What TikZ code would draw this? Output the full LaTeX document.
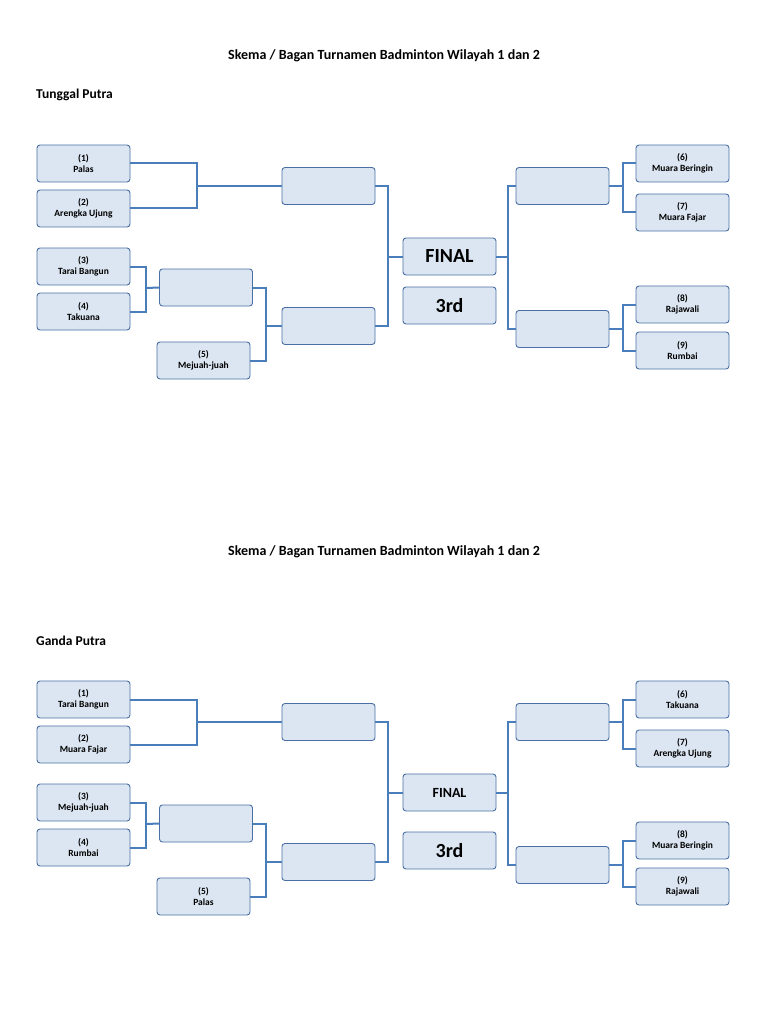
\documentclass[tikz,border=0pt]{standalone}
\usepackage{fontspec}
\setmainfont{Carlito}
\begin{document}
\begin{tikzpicture}[x=1pt,y=-1pt,
  box/.style={draw=bdr,fill=bfill,rounded corners=3pt,line width=0.9pt,minimum width=93pt,minimum height=37pt,inner sep=1pt,align=center,font=\fontsize{9.5}{11}\selectfont\bfseries},
  ln/.style={draw=lnc,line width=2pt}]
\definecolor{bdr}{HTML}{4A6FA5}
\definecolor{bfill}{HTML}{DCE6F2}
\definecolor{lnc}{HTML}{4A7EBB}
\useasboundingbox (0,0) rectangle (768,1024);
\newcommand\mybracket[4]{% #1 yoffset, #2 prefix, #3 final font size, #4 3rd extra offset
\begin{scope}[shift={(0,#1)}]
\node[box] (#2p1) at (83.5,163.5) {(1)\\\na};
\node[box] (#2p2) at (83.5,208.5) {(2)\\\nb};
\node[box] (#2p3) at (83.5,266.5) {(3)\\\nc};
\node[box] (#2p4) at (83.5,311.5) {(4)\\\nd};
\node[box] (#2a) at (206,287.5) {};
\node[box] (#2p5) at (203.5,360.5) {(5)\\\ne};
\node[box] (#2q1) at (328.5,186) {};
\node[box] (#2q2) at (328.5,326) {};
\node[box,font=\fontsize{#3}{#3}\selectfont\bfseries] (#2f) at (449.5,256.5) {FINAL};
\node[box,font=\fontsize{20}{20}\selectfont\bfseries] (#2t) at (449.5,305.5+#4) {3rd};
\node[box] (#2r1) at (562.5,186) {};
\node[box] (#2r2) at (562.5,329) {};
\node[box] (#2p6) at (682.5,163.5) {(6)\\\nf};
\node[box] (#2p7) at (682.5,212.5) {(7)\\\ng};
\node[box] (#2p8) at (682.5,304.5) {(8)\\\nh};
\node[box] (#2p9) at (682.5,350.5) {(9)\\\ni};
\coordinate (#2j1) at (197,186);
\coordinate (#2j2) at (146,288);
\coordinate (#2j3) at (266,326);
\coordinate (#2j4) at (388,256.5);
\coordinate (#2j5) at (508,256.5);
\coordinate (#2j6) at (623,186);
\coordinate (#2j7) at (623,329);
\end{scope}
\draw[ln] (#2p1.east) -| (#2j1) |- (#2p2.east);
\draw[ln] (#2j1) -- (#2q1.west);
\draw[ln] (#2p3.east) -| (#2j2) |- (#2p4.east);
\draw[ln] (#2j2) -- (#2a.west);
\draw[ln] (#2a.east) -| (#2j3) |- (#2p5.east);
\draw[ln] (#2j3) -- (#2q2.west);
\draw[ln] (#2q1.east) -| (#2j4) |- (#2q2.east);
\draw[ln] (#2j4) -- (#2f.west);
\draw[ln] (#2r1.west) -| (#2j5) |- (#2r2.west);
\draw[ln] (#2j5) -- (#2f.east);
\draw[ln] (#2p6.west) -| (#2j6) |- (#2p7.west);
\draw[ln] (#2j6) -- (#2r1.east);
\draw[ln] (#2p8.west) -| (#2j7) |- (#2p9.west);
\draw[ln] (#2j7) -- (#2r2.east);
}
\node[font=\fontsize{14}{16}\selectfont\bfseries] (t1) at (384,56) {Skema / Bagan Turnamen Badminton Wilayah 1 dan 2};
\node[font=\fontsize{13.5}{16}\selectfont\bfseries,anchor=west,inner sep=0] (s1) at (36,95) {Tunggal Putra};
\def\na{Palas}\def\nb{Arengka Ujung}\def\nc{Tarai Bangun}\def\nd{Takuana}\def\ne{Mejuah-juah}
\def\nf{Muara Beringin}\def\ng{Muara Fajar}\def\nh{Rajawali}\def\ni{Rumbai}
\mybracket{0}{A}{20}{0}
\node[font=\fontsize{14}{16}\selectfont\bfseries] (t2) at (384,552) {Skema / Bagan Turnamen Badminton Wilayah 1 dan 2};
\node[font=\fontsize{13.5}{16}\selectfont\bfseries,anchor=west,inner sep=0] (s2) at (36,641) {Ganda Putra};
\def\na{Tarai Bangun}\def\nb{Muara Fajar}\def\nc{Mejuah-juah}\def\nd{Rumbai}\def\ne{Palas}
\def\nf{Takuana}\def\ng{Arengka Ujung}\def\nh{Muara Beringin}\def\ni{Rajawali}
\mybracket{536}{B}{14}{9}
\end{tikzpicture}
\end{document}
